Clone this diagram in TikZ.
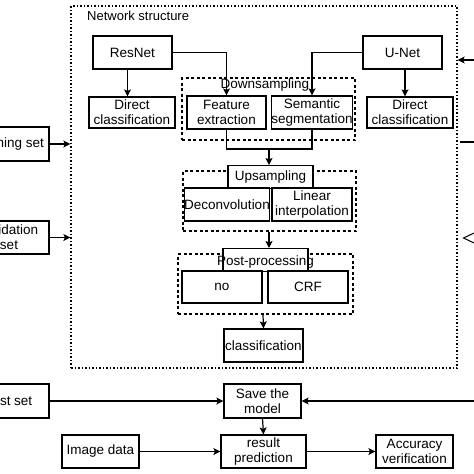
\documentclass[tikz,border=0pt]{standalone}
\usepackage{fontspec}
\setmainfont{Liberation Sans}
\usetikzlibrary{arrows.meta}
\begin{document}
\begin{tikzpicture}[x=1pt,y=-1pt,
  box/.style={draw, line width=1.2pt, rectangle, align=center, inner sep=0pt, fill=white,
    font=\fontsize{13.5}{15}\selectfont},
  lbl/.style={inner sep=0pt, font=\fontsize{13.5}{15}\selectfont},
  arr/.style={-{Stealth[length=7pt,width=7pt,inset=1.5pt]}, line width=1.2pt},
  ln/.style={line width=1.2pt},
  grp/.style={draw, line width=1.1pt, dash pattern=on 3pt off 2.5pt, rectangle, inner sep=0pt},
  outer/.style={draw, line width=1.2pt, dash pattern=on 1.5pt off 2pt, rectangle, inner sep=0pt}
]
\useasboundingbox (0,0) rectangle (474,474);
\fill[white] (0,0) rectangle (474,474);
\begin{scope}
\clip (0,0) rectangle (474,474);

% outer network structure box
\node[outer, minimum width=386pt, minimum height=362pt] (net) at (264,187) {};
\node[lbl, anchor=west, font=\fontsize{13}{15}\selectfont] (nslbl) at (87,16) {Network structure};

% top row
\node[box, minimum width=79pt, minimum height=33pt] (resnet) at (132.5,52.5) {ResNet};
\node[box, minimum width=86pt, minimum height=31pt] (dcl) at (132,112.5) {Direct\\classification};
\node[box, minimum width=79pt, minimum height=33pt] (unet) at (402.5,52.5) {U-Net};
\node[box, minimum width=86pt, minimum height=31pt] (dcr) at (410,112.5) {Direct\\classification};

% downsampling group
\node[grp, minimum width=173pt, minimum height=62pt] (down) at (268.5,109) {};
\node[box, minimum width=79pt, minimum height=33pt] (fe) at (226.5,112.5) {Feature\\extraction};
\node[box, minimum width=80pt, minimum height=33pt] (ss) at (312,112.5) {Semantic\\segmentation};

% upsampling group
\node[grp, minimum width=173pt, minimum height=60pt] (up) at (269.5,201) {};
\node[box, minimum width=85pt, minimum height=23pt, anchor=north] (uphead) at (270.5,165) {};
\node[lbl] (uplbl) at (270.5,177) {Upsampling};
\node[box, minimum width=80pt, minimum height=33pt] (deconv) at (227,204.5) {Deconvolution};
\node[box, minimum width=80pt, minimum height=33pt] (lin) at (312,204.5) {Linear\\interpolation};

% post-processing group
\node[grp, minimum width=175pt, minimum height=60pt] (post) at (265.5,284) {};
\node[box, minimum width=85pt, minimum height=23pt, anchor=north] (posthead) at (265.5,248) {};
\node[lbl] (postlbl) at (265.5,262) {Post-processing};
\node[box, minimum width=80pt, minimum height=32pt] (no) at (222,287) {no};
\node[box, minimum width=80pt, minimum height=32pt] (crf) at (308,287) {CRF};

\node[box, minimum width=79pt, minimum height=33pt] (cls) at (263.5,345.5) {classification};

% downsampling label (after boxes)
\node[lbl] (downlbl) at (265,85) {Downsampling};

% left inputs
\node[box, minimum width=80pt, minimum height=34pt] (train) at (9,144) {Training set};
\node[box, minimum width=80pt, minimum height=33pt] (val) at (9,237.5) {Validation\\set};
\node[box, minimum width=80pt, minimum height=34pt] (test) at (9,401) {Test set};

% bottom rows
\node[box, minimum width=77pt, minimum height=34pt] (save) at (262.5,401) {Save the\\model};
\node[box, minimum width=77pt, minimum height=33pt] (img) at (100.5,451.5) {Image data};
\node[box, minimum width=85pt, minimum height=33pt] (res) at (263.5,451.5) {result\\prediction};
\node[box, minimum width=77pt, minimum height=33pt] (acc) at (414.5,451.5) {Accuracy\\verification};

% connectors inside network
\draw[arr] ([xshift=-5pt]resnet.south) -- ([xshift=-5pt]resnet.south |- dcl.north);
\draw[arr] ([xshift=2.5pt]unet.south) -- ([xshift=2.5pt]unet.south |- dcr.north);
\draw[arr] (resnet.east) -| (fe.north);
\draw[arr] (unet.west) -| (ss.north);

\coordinate (j1) at (269,149);
\draw[ln] (fe.south) -- (fe.south |- j1) -- (ss.south |- j1) -- (ss.south);
\draw[arr] (j1) -- (j1 |- uphead.north);
\draw[arr] (up.south -| j1) -- (j1 |- posthead.north);
\draw[arr] ([xshift=-0.5pt]post.south -| cls.north) -- (cls.north);

% inputs to network
\draw[arr] (train.east) -- (train.east -| net.west);
\draw[arr] (val.east) -- (val.east -| net.west);

% right side fragments
\coordinate (rin) at (474,60);
\draw[arr] (rin) -- (rin -| net.east);
\coordinate (rl1) at (460,142);
\coordinate (rl2) at (474,142);
\draw[ln] (rl1) -- (rl2);
\coordinate (ra1) at (474,233);
\coordinate (ra2) at (463.5,238);
\coordinate (ra3) at (474,243);
\draw[line width=1pt] (ra1) -- (ra2) -- (ra3);

% bottom connectors
\draw[arr] (test.east) -- (save.west);
\coordinate (rin2) at (474,401);
\draw[arr] (rin2) -- (save.east);
\draw[arr] (save.south) -- (res.north);
\draw[arr] (img.east) -- (res.west);
\draw[arr] (res.east) -- (acc.west);
\end{scope}
\end{tikzpicture}
\end{document}
